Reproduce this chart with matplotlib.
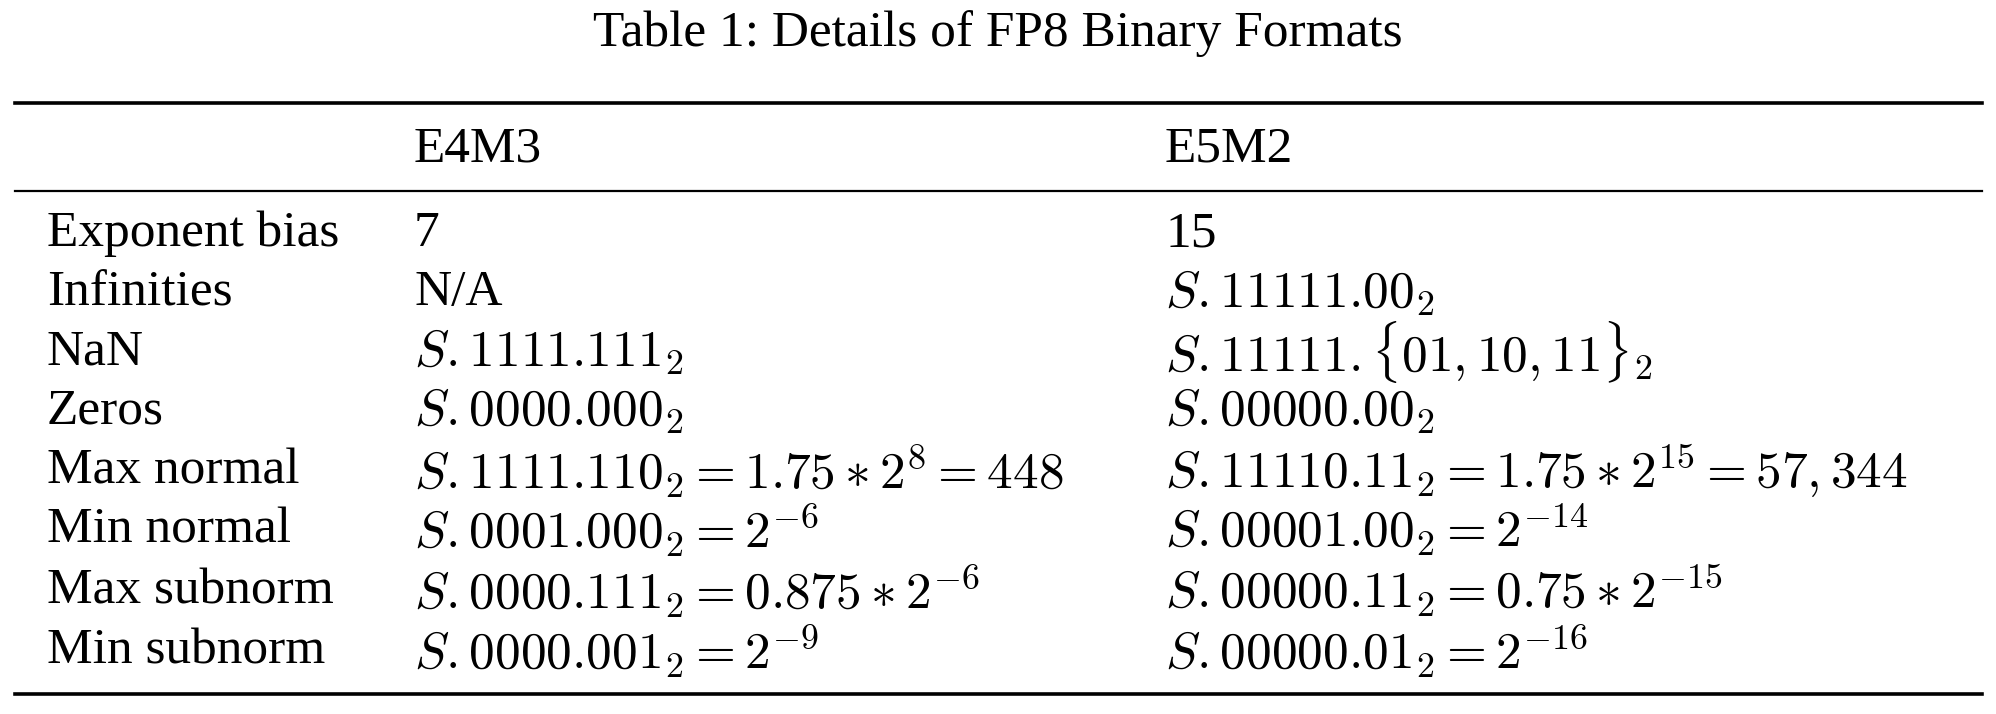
import matplotlib
matplotlib.use("Agg")
import matplotlib.pyplot as plt
from matplotlib.lines import Line2D

plt.rcParams['font.family'] = ['Liberation Serif', 'DejaVu Serif']
plt.rcParams['mathtext.fontset'] = 'cm'

title = "Table 1: Details of FP8 Binary Formats"
columns = ["", "E4M3", "E5M2"]
row_labels = ["Exponent bias", "Infinities", "NaN", "Zeros", "Max normal",
              "Min normal", "Max subnorm", "Min subnorm"]
e4m3 = ["7", "N/A", r"$S{.}1111.111_2$", r"$S{.}0000.000_2$",
        r"$S{.}1111.110_2 = 1.75 * 2^8 = 448$", r"$S{.}0001.000_2 = 2^{-6}$",
        r"$S{.}0000.111_2 = 0.875 * 2^{-6}$", r"$S{.}0000.001_2 = 2^{-9}$"]
e5m2 = ["15", r"$S{.}11111.00_2$", r"$S{.}11111{.}\{01,10,11\}_2$", r"$S{.}00000.00_2$",
        r"$S{.}11110.11_2 = 1.75 * 2^{15} = 57,344$", r"$S{.}00001.00_2 = 2^{-14}$",
        r"$S{.}00000.11_2 = 0.75 * 2^{-15}$", r"$S{.}00000.01_2 = 2^{-16}$"]

W, H = 1996, 714
fig = plt.figure(figsize=(W/100, H/100), dpi=100)
fs = 37

def tx(x, y, s, **kw):
    fig.text(x / W, 1 - y / H, s, fontsize=fs, va='center', **kw)

def rule(y, lw):
    fig.add_artist(Line2D([15/W, 1982/W], [1 - y/H]*2, color='black', lw=lw,
                          transform=fig.transFigure))

tx(W/2, 34, title, ha='center')
rule(103, 2.6)
rule(191, 1.6)
rule(694, 2.6)

col_x = [47, 414, 1165]
tx(col_x[1], 149, columns[1])
tx(col_x[2], 149, columns[2])
row_y = [234, 293, 352, 411, 471, 530, 591, 651]
for y, a, b, c in zip(row_y, row_labels, e4m3, e5m2):
    tx(col_x[0], y, a)
    tx(col_x[1], y, b)
    tx(col_x[2], y, c)

fig.savefig("out.png", dpi=100)
